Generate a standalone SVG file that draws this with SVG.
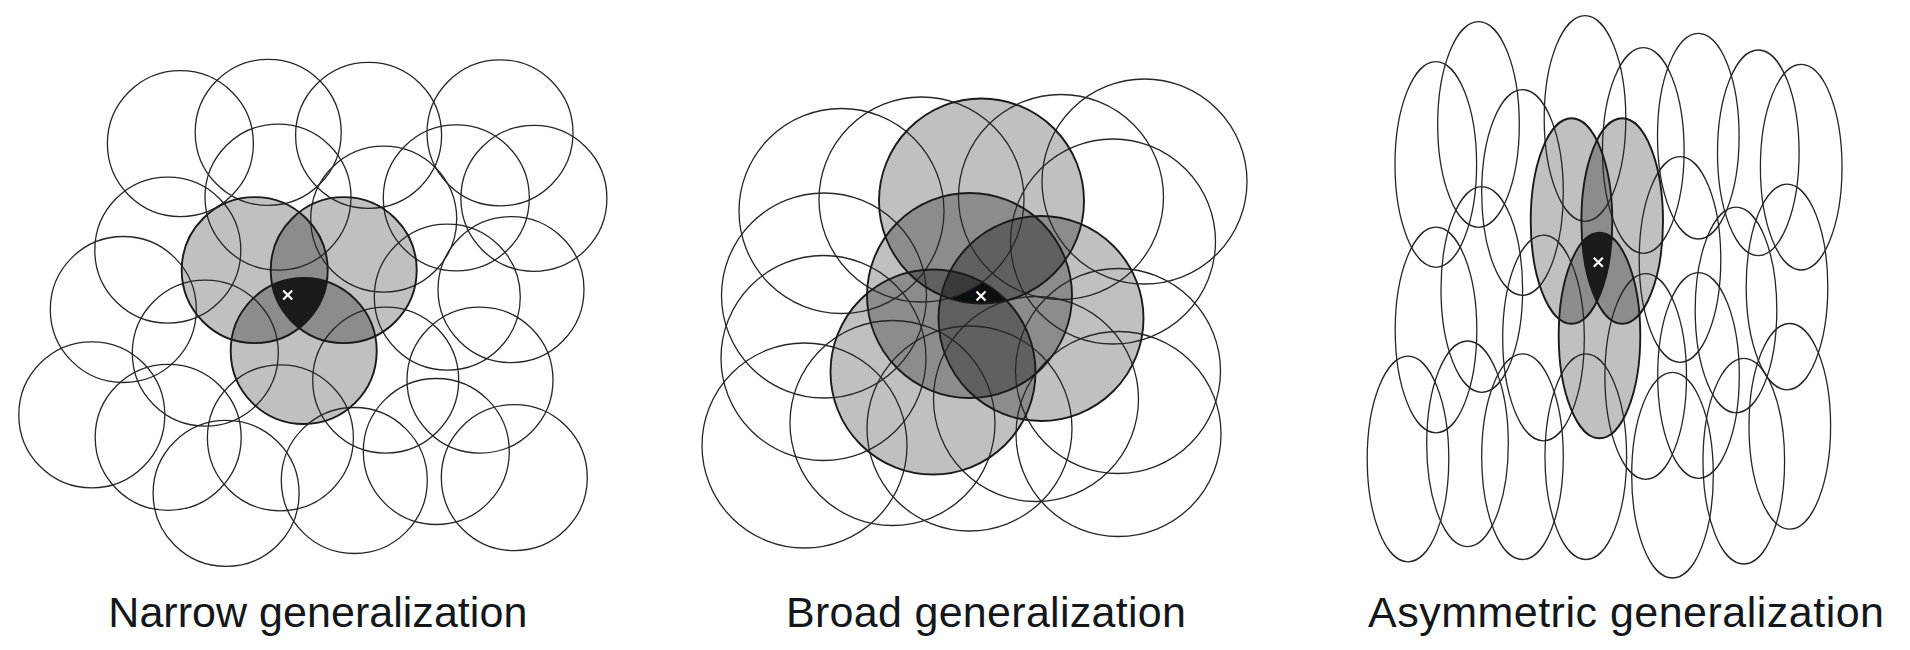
<svg xmlns="http://www.w3.org/2000/svg" width="1910" height="650" viewBox="0 0 1910 650">
<style>
.w{fill:none;stroke:#262626;stroke-width:1.3}
.g{fill:none;stroke:#1a1a1a;stroke-width:1.9}
.l1{fill:#c0c0c0}
.l2{fill:#8c8c8c}
.l3{fill:#606060}
.l4{fill:#3a3a3a}
.blk{fill:#1c1b1a}
.blk2{fill:#0c0f12}
.xm{stroke:#ffffff;stroke-width:2.2;stroke-linecap:butt}
.lbl{font-family:"Liberation Sans",Arial,Helvetica,sans-serif;font-size:43px;fill:#14171a;text-anchor:middle}
</style>
<defs>
<clipPath id="c1a"><circle cx="254.7" cy="270.1" r="73"/></clipPath>
<clipPath id="c1b"><circle cx="343.7" cy="270.1" r="73"/></clipPath>
<clipPath id="c2t"><circle cx="981.5" cy="201" r="102.5"/></clipPath>
<clipPath id="c2m"><circle cx="969.5" cy="295.5" r="102.5"/></clipPath>
<clipPath id="c2r"><circle cx="1041" cy="318.5" r="102.5"/></clipPath>
<clipPath id="c3a"><ellipse cx="1571.5" cy="221" rx="40.8" ry="102.8"/></clipPath>
<clipPath id="c3b"><ellipse cx="1622.2" cy="221" rx="40.8" ry="102.8"/></clipPath>
<mask id="m2" maskUnits="userSpaceOnUse" x="0" y="0" width="1910" height="650">
<rect x="0" y="0" width="1910" height="650" fill="#fff"/>
<circle cx="921.5" cy="199.5" r="102.5" fill="#000"/>
</mask>
</defs>
<rect x="0" y="0" width="1910" height="650" fill="#ffffff"/>

<g id="panel-narrow">
<g id="narrow-fills">
<circle class="l1" cx="254.7" cy="270.1" r="73"/>
<circle class="l1" cx="343.7" cy="270.1" r="73"/>
<circle class="l1" cx="303.7" cy="351" r="73"/>
<g clip-path="url(#c1a)"><circle class="l2" cx="343.7" cy="270.1" r="73"/><circle class="l2" cx="303.7" cy="351" r="73"/></g>
<g clip-path="url(#c1b)"><circle class="l2" cx="303.7" cy="351" r="73"/></g>
<g clip-path="url(#c1a)"><g clip-path="url(#c1b)"><circle class="blk" cx="303.7" cy="351" r="73"/></g></g>
</g>
<g id="narrow-outlines">
<circle class="w" cx="180.4" cy="143.6" r="73"/>
<circle class="w" cx="268.2" cy="132.4" r="73"/>
<circle class="w" cx="368.6" cy="135.3" r="73"/>
<circle class="w" cx="500" cy="132.8" r="73"/>
<circle class="w" cx="278" cy="197.1" r="73"/>
<circle class="w" cx="456.3" cy="197.9" r="73"/>
<circle class="w" cx="533.9" cy="198.3" r="73"/>
<circle class="w" cx="383.7" cy="219.1" r="73"/>
<circle class="w" cx="167.8" cy="250.2" r="73"/>
<circle class="w" cx="447.3" cy="297.1" r="73"/>
<circle class="w" cx="511" cy="289.6" r="73"/>
<circle class="w" cx="123.3" cy="309.5" r="73"/>
<circle class="w" cx="205.3" cy="353.1" r="73"/>
<circle class="w" cx="480" cy="380.1" r="73"/>
<circle class="w" cx="385.7" cy="380.1" r="73"/>
<circle class="w" cx="91.8" cy="414.9" r="73"/>
<circle class="w" cx="168.2" cy="437.3" r="73"/>
<circle class="w" cx="280.4" cy="437.8" r="73"/>
<circle class="w" cx="436.3" cy="451.5" r="73"/>
<circle class="w" cx="226.1" cy="493.4" r="73"/>
<circle class="w" cx="354.3" cy="480.5" r="73"/>
<circle class="w" cx="514.3" cy="477.6" r="73"/>
<circle class="g" cx="254.7" cy="270.1" r="73"/>
<circle class="g" cx="343.7" cy="270.1" r="73"/>
<circle class="g" cx="303.7" cy="351" r="73"/>
</g>
<g id="narrow-x"><line class="xm" x1="283.2" y1="290.5" x2="292.2" y2="299.5"/><line class="xm" x1="292.2" y1="290.5" x2="283.2" y2="299.5"/></g>
<text class="lbl" x="317.8" y="627" textLength="419" lengthAdjust="spacing">Narrow generalization</text>
</g>

<g id="panel-broad">
<g id="broad-fills">
<circle class="l1" cx="981.5" cy="201" r="102.5"/>
<circle class="l1" cx="969.5" cy="295.5" r="102.5"/>
<circle class="l1" cx="1041" cy="318.5" r="102.5"/>
<circle class="l1" cx="933" cy="372" r="102.5"/>
<g clip-path="url(#c2t)"><circle class="l2" cx="969.5" cy="295.5" r="102.5"/><circle class="l2" cx="1041" cy="318.5" r="102.5"/><circle class="l2" cx="933" cy="372" r="102.5"/></g>
<g clip-path="url(#c2m)"><circle class="l2" cx="1041" cy="318.5" r="102.5"/><circle class="l2" cx="933" cy="372" r="102.5"/></g>
<g clip-path="url(#c2r)"><circle class="l2" cx="933" cy="372" r="102.5"/></g>
<g clip-path="url(#c2t)"><g clip-path="url(#c2m)"><circle class="l3" cx="1041" cy="318.5" r="102.5"/><circle class="l3" cx="933" cy="372" r="102.5"/></g></g>
<g clip-path="url(#c2t)"><g clip-path="url(#c2r)"><circle class="l3" cx="933" cy="372" r="102.5"/></g></g>
<g clip-path="url(#c2m)"><g clip-path="url(#c2r)"><circle class="l3" cx="933" cy="372" r="102.5"/></g></g>
<g clip-path="url(#c2t)"><g clip-path="url(#c2m)"><g clip-path="url(#c2r)"><circle class="l4" cx="933" cy="372" r="102.5"/></g></g></g>
<g mask="url(#m2)"><g clip-path="url(#c2t)"><g clip-path="url(#c2m)"><g clip-path="url(#c2r)"><circle class="blk2" cx="933" cy="372" r="102.5"/></g></g></g></g>
</g>
<g id="broad-outlines">
<circle class="w" cx="841.5" cy="211" r="102.5"/>
<circle class="w" cx="921.5" cy="199.5" r="102.5"/>
<circle class="w" cx="1061" cy="197" r="102.5"/>
<circle class="w" cx="1144.5" cy="181.5" r="102.5"/>
<circle class="w" cx="1113" cy="241.5" r="102.5"/>
<circle class="w" cx="824" cy="295.5" r="102.5"/>
<circle class="w" cx="823.5" cy="358" r="102.5"/>
<circle class="w" cx="1118" cy="371" r="102.5"/>
<circle class="w" cx="804.5" cy="445.5" r="102.5"/>
<circle class="w" cx="892.5" cy="423" r="102.5"/>
<circle class="w" cx="969.5" cy="428.5" r="102.5"/>
<circle class="w" cx="1036" cy="399" r="102.5"/>
<circle class="w" cx="1118.5" cy="434" r="102.5"/>
<circle class="g" cx="981.5" cy="201" r="102.5"/>
<circle class="g" cx="969.5" cy="295.5" r="102.5"/>
<circle class="g" cx="1041" cy="318.5" r="102.5"/>
<circle class="g" cx="933" cy="372" r="102.5"/>
</g>
<g id="broad-x"><line class="xm" x1="976.5" y1="291.5" x2="985.5" y2="300.5"/><line class="xm" x1="985.5" y1="291.5" x2="976.5" y2="300.5"/></g>
<text class="lbl" x="986" y="627" textLength="400" lengthAdjust="spacing">Broad generalization</text>
</g>

<g id="panel-asymmetric">
<g id="asym-fills">
<ellipse class="l1" cx="1571.5" cy="221" rx="40.8" ry="102.8"/>
<ellipse class="l1" cx="1622.2" cy="221" rx="40.8" ry="102.8"/>
<ellipse class="l1" cx="1599.5" cy="335.5" rx="40.8" ry="102.8"/>
<g clip-path="url(#c3a)"><ellipse class="l2" cx="1622.2" cy="221" rx="40.8" ry="102.8"/><ellipse class="l2" cx="1599.5" cy="335.5" rx="40.8" ry="102.8"/></g>
<g clip-path="url(#c3b)"><ellipse class="l2" cx="1599.5" cy="335.5" rx="40.8" ry="102.8"/></g>
<g clip-path="url(#c3a)"><g clip-path="url(#c3b)"><ellipse class="blk" cx="1599.5" cy="335.5" rx="40.8" ry="102.8"/></g></g>
</g>
<g id="asym-outlines">
<ellipse class="w" cx="1435.8" cy="164.5" rx="40.8" ry="102.8"/>
<ellipse class="w" cx="1478.5" cy="124.5" rx="40.8" ry="102.8"/>
<ellipse class="w" cx="1522.5" cy="192.5" rx="40.8" ry="102.8"/>
<ellipse class="w" cx="1585" cy="118.5" rx="40.8" ry="102.8"/>
<ellipse class="w" cx="1643.3" cy="150.5" rx="40.8" ry="102.8"/>
<ellipse class="w" cx="1698.3" cy="136.2" rx="40.8" ry="102.8"/>
<ellipse class="w" cx="1758.3" cy="152.8" rx="40.8" ry="102.8"/>
<ellipse class="w" cx="1801.2" cy="167.2" rx="40.8" ry="102.8"/>
<ellipse class="w" cx="1436" cy="330" rx="40.8" ry="102.8"/>
<ellipse class="w" cx="1481.8" cy="289.5" rx="40.8" ry="102.8"/>
<ellipse class="w" cx="1543.5" cy="338" rx="40.8" ry="102.8"/>
<ellipse class="w" cx="1680" cy="259.5" rx="40.8" ry="102.8"/>
<ellipse class="w" cx="1645.7" cy="376.5" rx="40.8" ry="102.8"/>
<ellipse class="w" cx="1698.5" cy="375.5" rx="40.8" ry="102.8"/>
<ellipse class="w" cx="1736" cy="310" rx="40.8" ry="102.8"/>
<ellipse class="w" cx="1787" cy="287" rx="40.8" ry="102.8"/>
<ellipse class="w" cx="1408" cy="459" rx="40.8" ry="102.8"/>
<ellipse class="w" cx="1467.5" cy="443.8" rx="40.8" ry="102.8"/>
<ellipse class="w" cx="1522.5" cy="456.7" rx="40.8" ry="102.8"/>
<ellipse class="w" cx="1585.8" cy="456.7" rx="40.8" ry="102.8"/>
<ellipse class="w" cx="1672.5" cy="475.2" rx="40.8" ry="102.8"/>
<ellipse class="w" cx="1743.8" cy="461.2" rx="40.8" ry="102.8"/>
<ellipse class="w" cx="1789.8" cy="426.3" rx="40.8" ry="102.8"/>
<ellipse class="g" cx="1571.5" cy="221" rx="40.8" ry="102.8"/>
<ellipse class="g" cx="1622.2" cy="221" rx="40.8" ry="102.8"/>
<ellipse class="g" cx="1599.5" cy="335.5" rx="40.8" ry="102.8"/>
</g>
<g id="asym-x"><line class="xm" x1="1593.8" y1="257.8" x2="1602.8" y2="266.8"/><line class="xm" x1="1602.8" y1="257.8" x2="1593.8" y2="266.8"/></g>
<text class="lbl" x="1626" y="627" textLength="516" lengthAdjust="spacing">Asymmetric generalization</text>
</g>
</svg>
